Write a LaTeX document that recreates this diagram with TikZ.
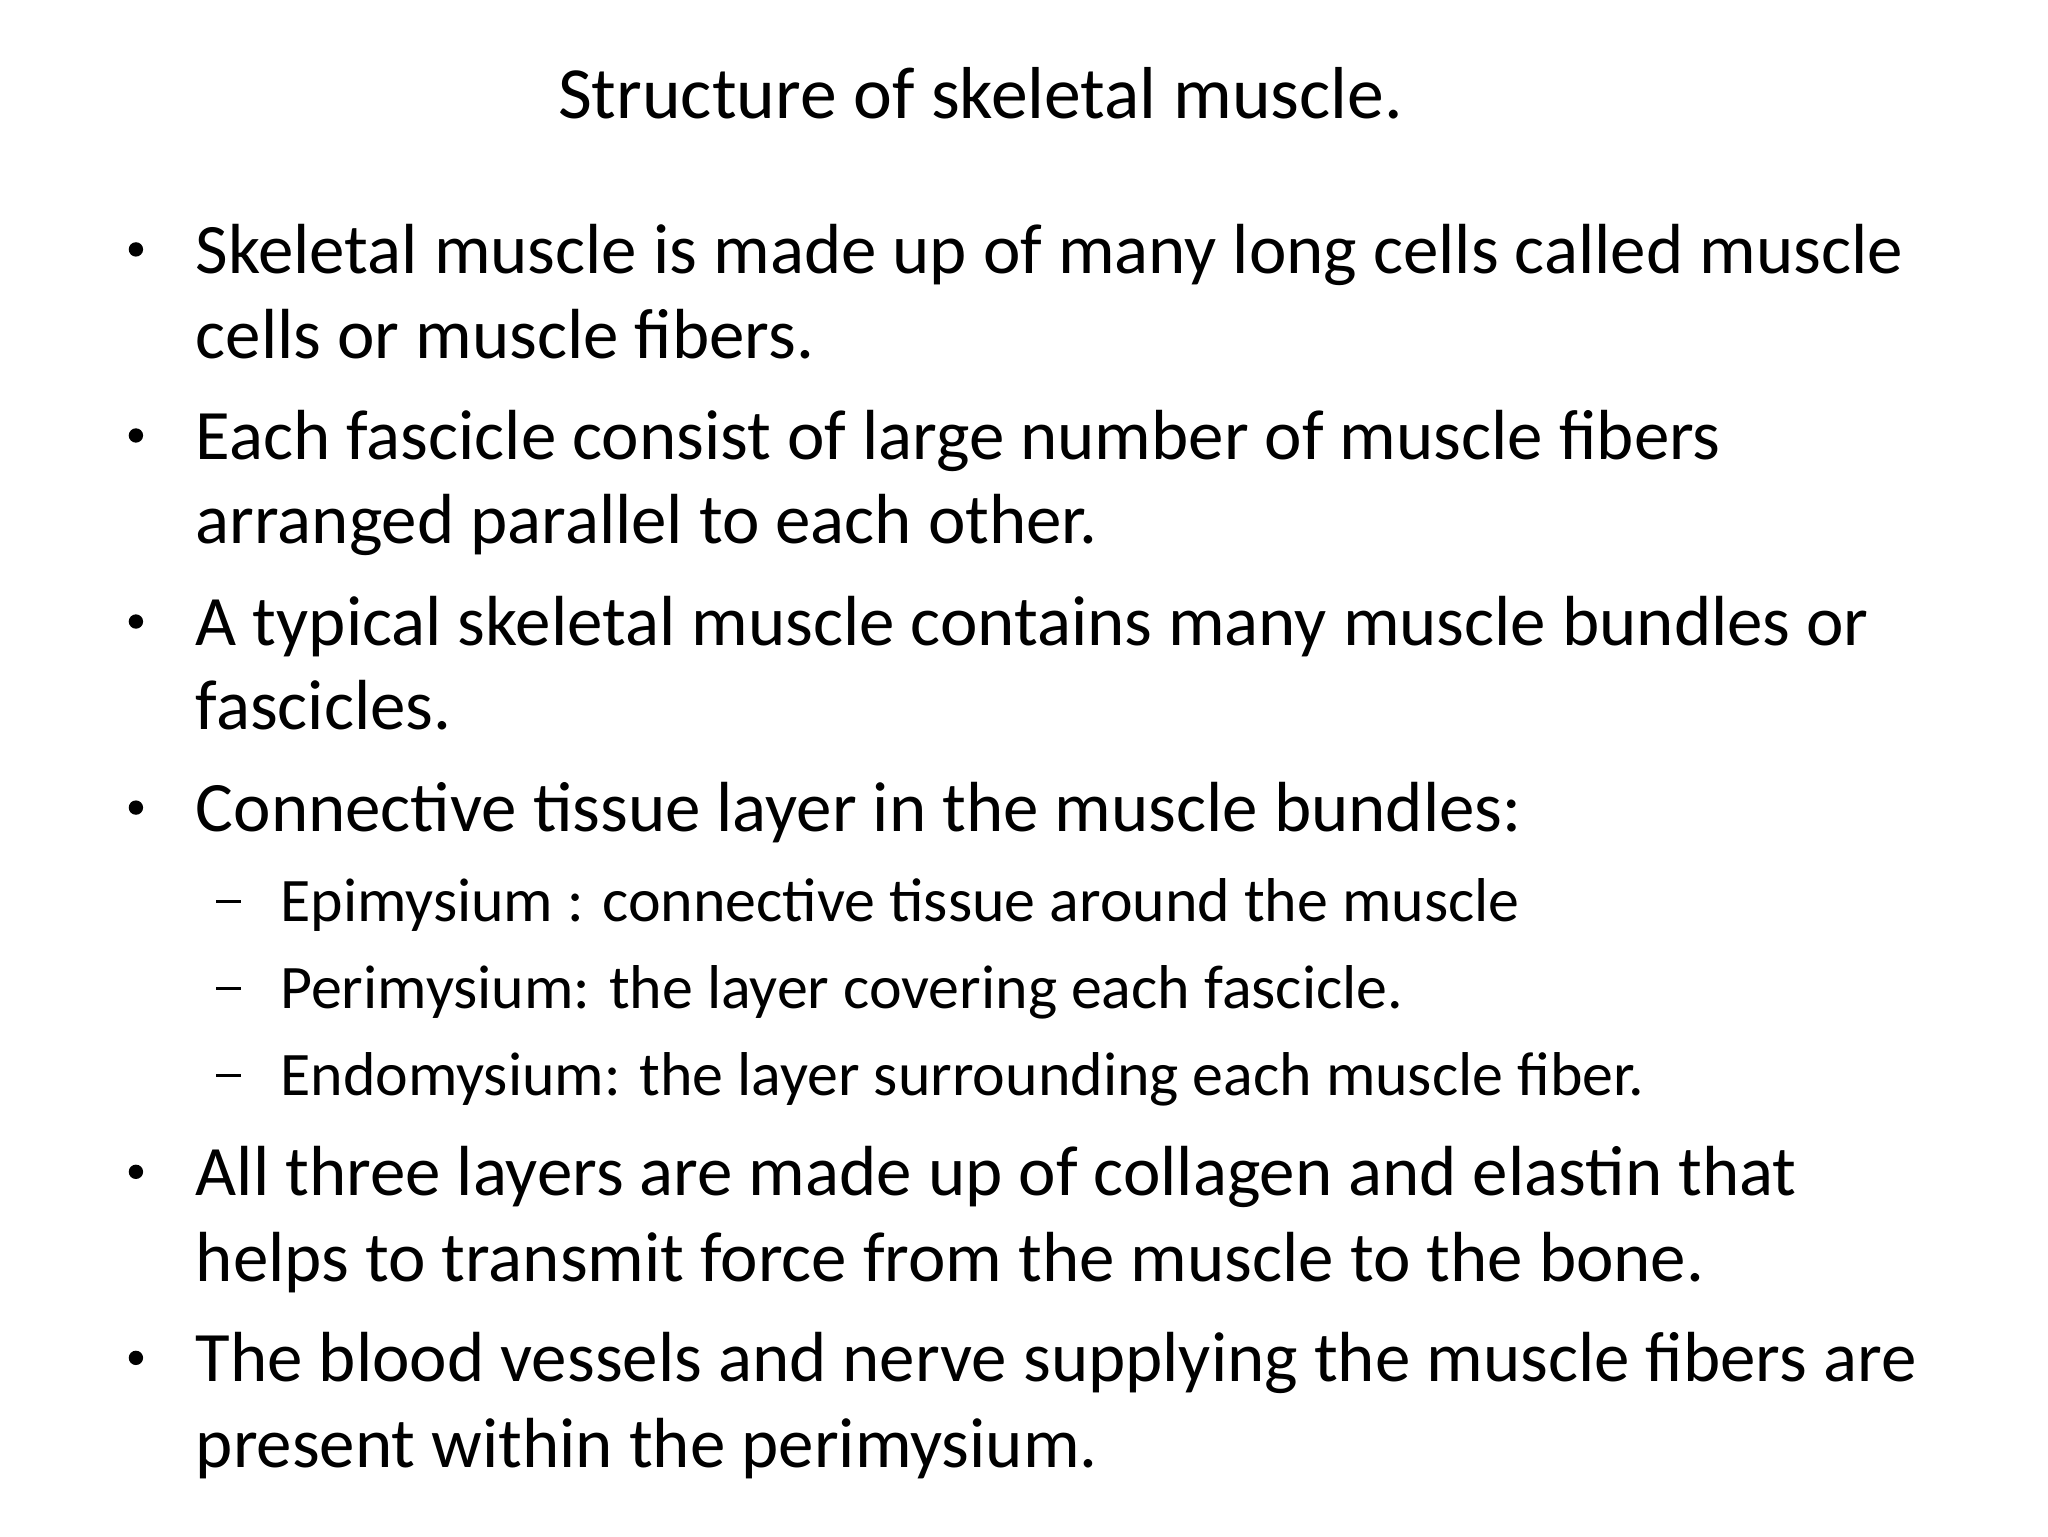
\documentclass[tikz,border=0pt]{standalone}
\usepackage{fontspec}
\setmainfont{Carlito}
\begin{document}
\begin{tikzpicture}[x=0.01746cm,y=-0.01746cm,
  big/.style={anchor=base west,inner sep=0pt,font=\fontsize{26.7}{30}\selectfont},
  small/.style={anchor=base west,inner sep=0pt,font=\fontsize{23.3}{26}\selectfont},
  ttl/.style={anchor=base,inner sep=0pt,font=\fontsize{27.7}{30}\selectfont},
  bulletdot/.style={circle,fill=black,inner sep=0pt,minimum size=0.19cm},
  dashbar/.style={fill=black,inner sep=0pt,minimum width=0.33cm,minimum height=0.04cm}]
\useasboundingbox (0,0) rectangle (1552,1164);
\node[ttl] (title) at (743,90) {Structure of skeletal muscle.};
\foreach \y/\t [count=\i] in {207/Skeletal muscle is made up of many long cells called muscle,
  272/cells or muscle fibers.,
  348/Each fascicle consist of large number of muscle fibers,
  412/arranged parallel to each other.,
  489/A typical skeletal muscle contains many muscle bundles or,
  553/fascicles.,
  630/Connective tissue layer in the muscle bundles:,
  906/All three layers are made up of collagen and elastin that,
  971/helps to transmit force from the muscle to the bone.,
  1047/The blood vessels and nerve supplying the muscle fibers are,
  1112/present within the perimysium.}
  \node[big] (l\i) at (148,\y) {\t};
\foreach \y [count=\i] in {207,348,489,630,906,1047}
  \node[bulletdot] (b\i) at (103,\y-18) {};
\foreach \y/\t [count=\i] in {698/Epimysium : connective tissue around the muscle,
  764/Perimysium: the layer covering each fascicle.,
  830/Endomysium: the layer surrounding each muscle fiber.}
  {\node[small] (s\i) at (212,\y) {\t};
   \node[dashbar] (d\i) at (173,\y-15) {};}
\end{tikzpicture}
\end{document}
